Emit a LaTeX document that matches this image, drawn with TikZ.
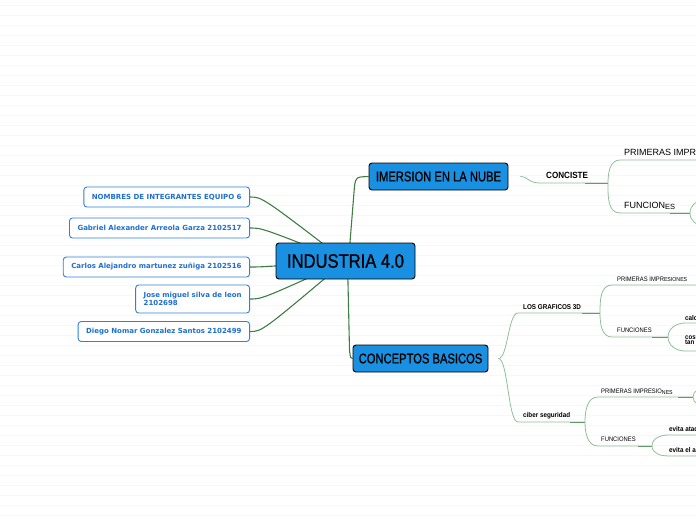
\documentclass[tikz,border=0pt]{standalone}
\usepackage{fontspec}
\setmainfont{Liberation Sans}
\newfontfamily\hdA[FakeStretch=0.85,FakeBold=0.9]{Liberation Sans}
\newfontfamily\hdB[FakeStretch=0.8,FakeBold=0.9]{Liberation Sans}
\newfontfamily\lbl[FakeStretch=0.9]{Liberation Sans}
\newfontfamily\dvs{DejaVu Sans}
\definecolor{topblue}{HTML}{1A90E2}
\definecolor{leftblue}{HTML}{2F80D6}
\definecolor{lefttxt}{HTML}{1E6FCF}
\definecolor{dgreen}{HTML}{3E7E46}
\definecolor{lgreen}{HTML}{8DBF98}
\definecolor{stripe}{HTML}{F7F7F7}
\pgfdeclarelayer{bg}
\pgfsetlayers{bg,main}
\begin{document}
\begin{tikzpicture}[x=1pt,y=-1pt,
  topbox/.style={draw=black,line width=0.9pt,fill=topblue,rounded corners=3pt,inner sep=0pt,text=black},
  leftbox/.style={draw=leftblue,line width=0.9pt,fill=white,rounded corners=3pt,inner xsep=8pt,inner ysep=0pt,minimum height=20pt,text=lefttxt,font=\dvs\bfseries\fontsize{7}{7.5}\selectfont,anchor=east},
  mainline/.style={draw=dgreen,line width=1.1pt},
  branch/.style={draw=lgreen,line width=0.8pt},
  tipline/.style={draw=dgreen!80,line width=0.9pt},
  lab/.style={anchor=base west,inner sep=0pt,text=black},
  blab/.style={lab,font=\lbl\bfseries\fontsize{7}{7}\selectfont},
  slab/.style={lab,font=\lbl\fontsize{6.5}{6.5}\selectfont},
]
\useasboundingbox (0,0) rectangle (696,520);
\clip (0,0) rectangle (696,520);
\begin{pgfonlayer}{bg}
  \foreach \y in {5,15,...,515} \draw[stripe,line width=1pt] (0,\y) -- (696,\y);
\end{pgfonlayer}

% main nodes
\node[topbox,minimum width=139pt,minimum height=36pt,font=\hdA\fontsize{19.5}{20}\selectfont] (c) at (345.5,261) {INDUSTRIA 4.0};
\node[topbox,minimum width=139pt,minimum height=27pt,font=\hdB\fontsize{14}{14}\selectfont] (imer) at (438.5,176.5) {IMERSION EN LA NUBE};
\node[topbox,minimum width=135pt,minimum height=27pt,font=\hdB\fontsize{14}{14}\selectfont] (conc) at (420.5,358.5) {CONCEPTOS BASICOS};

% left boxes
\node[leftbox] (b1) at (250,197) {NOMBRES DE INTEGRANTES EQUIPO 6};
\node[leftbox] (b2) at (250,228) {Gabriel Alexander Arreola Garza 2102517};
\node[leftbox] (b3) at (250,267) {Carlos Alejandro martunez zuñiga 2102516};
\node[leftbox,align=left,minimum height=28pt] (b4) at (250,299) {Jose miguel silva de leon\\2102698};
\node[leftbox] (b5) at (250,331.5) {Diego Nomar Gonzalez Santos 2102499};

\begin{pgfonlayer}{bg}
  \foreach \b in {b1,b2,b3,b4,b5}
    \draw[mainline] (\b.east) .. controls +(12,0) .. (c.center);
  \draw[mainline] ([xshift=3pt]c.center) -- (354.5,186) .. controls (356,177) .. (imer.west);
  \draw[mainline] ([xshift=2pt]c.center) -- (349.5,350) .. controls (350.5,358.5) .. (conc.west);
\end{pgfonlayer}

% IMERSION branch
\coordinate (k0) at ([xshift=12pt]imer.east);
\draw[branch] (k0) .. controls (528,176.5) and (528,183) .. (540,183) -- (608,183) coordinate (k1);
\draw[tipline] (585,183) -- (k1);
\node[lab,font=\lbl\bfseries\fontsize{9}{9}\selectfont] (t1) at (546,178) {CONCISTE};
\draw[branch] (k1) to[out=90,in=180] (620,160) -- (710,160);
\node[lab,font=\fontsize{9}{9}\selectfont] (t2) at (624,155) {PRIMERAS IMPRESIONES};
\draw[branch] (k1) to[out=-90,in=180] (620,213) -- (690,213) coordinate (k1b);
\draw[tipline] (670,213) -- (k1b);
\node[lab,font=\fontsize{9}{9}\selectfont] (t3) at (624,208) {FUNCION\raisebox{-1pt}{\fontsize{7.5}{7.5}\selectfont ES}};
\draw[branch] (k1b) to[out=90,in=180] (704,200);
\draw[branch] (k1b) to[out=-90,in=180] (704,226);

% CONCEPTOS branch
\coordinate (k2) at ([xshift=10pt]conc.east);
\draw[branch] (k2) .. controls (508,358.5) and (508,313) .. (518,313) -- (600,313) coordinate (k3);
\draw[tipline] (582,313) -- (k3);
\node[blab] (t4) at (523,309) {LOS GRAFICOS 3D};
\draw[branch] (k2) .. controls (508,358.5) and (508,422) .. (518,422) -- (585,422) coordinate (k4);
\draw[tipline] (570,422) -- (k4);
\node[blab] (t5) at (523,417) {ciber seguridad};

% LOS GRAFICOS 3D
\draw[branch] (k3) to[out=90,in=180] (612,285) -- (710,285);
\node[slab] (t6) at (617,281) {PRIMERAS IMPR\raisebox{-0.8pt}{\fontsize{5.8}{5.8}\selectfont ESIONES}};
\draw[branch] (k3) to[out=-90,in=180] (612,337) -- (668,337) coordinate (k5);
\draw[tipline] (652,337) -- (k5);
\node[slab] (t7) at (617,332) {FUNCIONES};
\draw[branch] (k5) to[out=90,in=180] (685,323) -- (710,323);
\draw[branch] (k5) to[out=-90,in=180] (685,351) -- (710,351);
\node[blab] (t8) at (685,320) {calculos};
\node[lab,anchor=north west,align=left,font=\lbl\bfseries\fontsize{6.8}{5.8}\selectfont] (t9) at (685,334.5) {costos\\tan};

% ciber seguridad
\draw[branch] (k4) to[out=90,in=180] (598,397) -- (693,397) coordinate (k4a);
\draw[tipline] (678,397) -- (k4a);
\node[slab] (t10) at (601,393) {PRIMERAS IMPRESIO\raisebox{-1pt}{\fontsize{5.8}{5.8}\selectfont NES}};
\draw[branch] (k4a) to[out=90,in=180] (705,388);
\draw[branch] (k4a) to[out=-90,in=180] (705,406);
\draw[branch] (k4) to[out=-90,in=180] (598,446) -- (652,446) coordinate (k6);
\draw[tipline] (638,446) -- (k6);
\node[slab] (t11) at (601,441) {FUNCIONES};
\draw[branch] (k6) to[out=90,in=180] (668,435) -- (710,435);
\draw[branch] (k6) to[out=-90,in=180] (668,456) -- (710,456);
\node[blab] (t12) at (669,431) {evita ataques};
\node[blab] (t13) at (669,452) {evita el acceso};
\end{tikzpicture}
\end{document}
